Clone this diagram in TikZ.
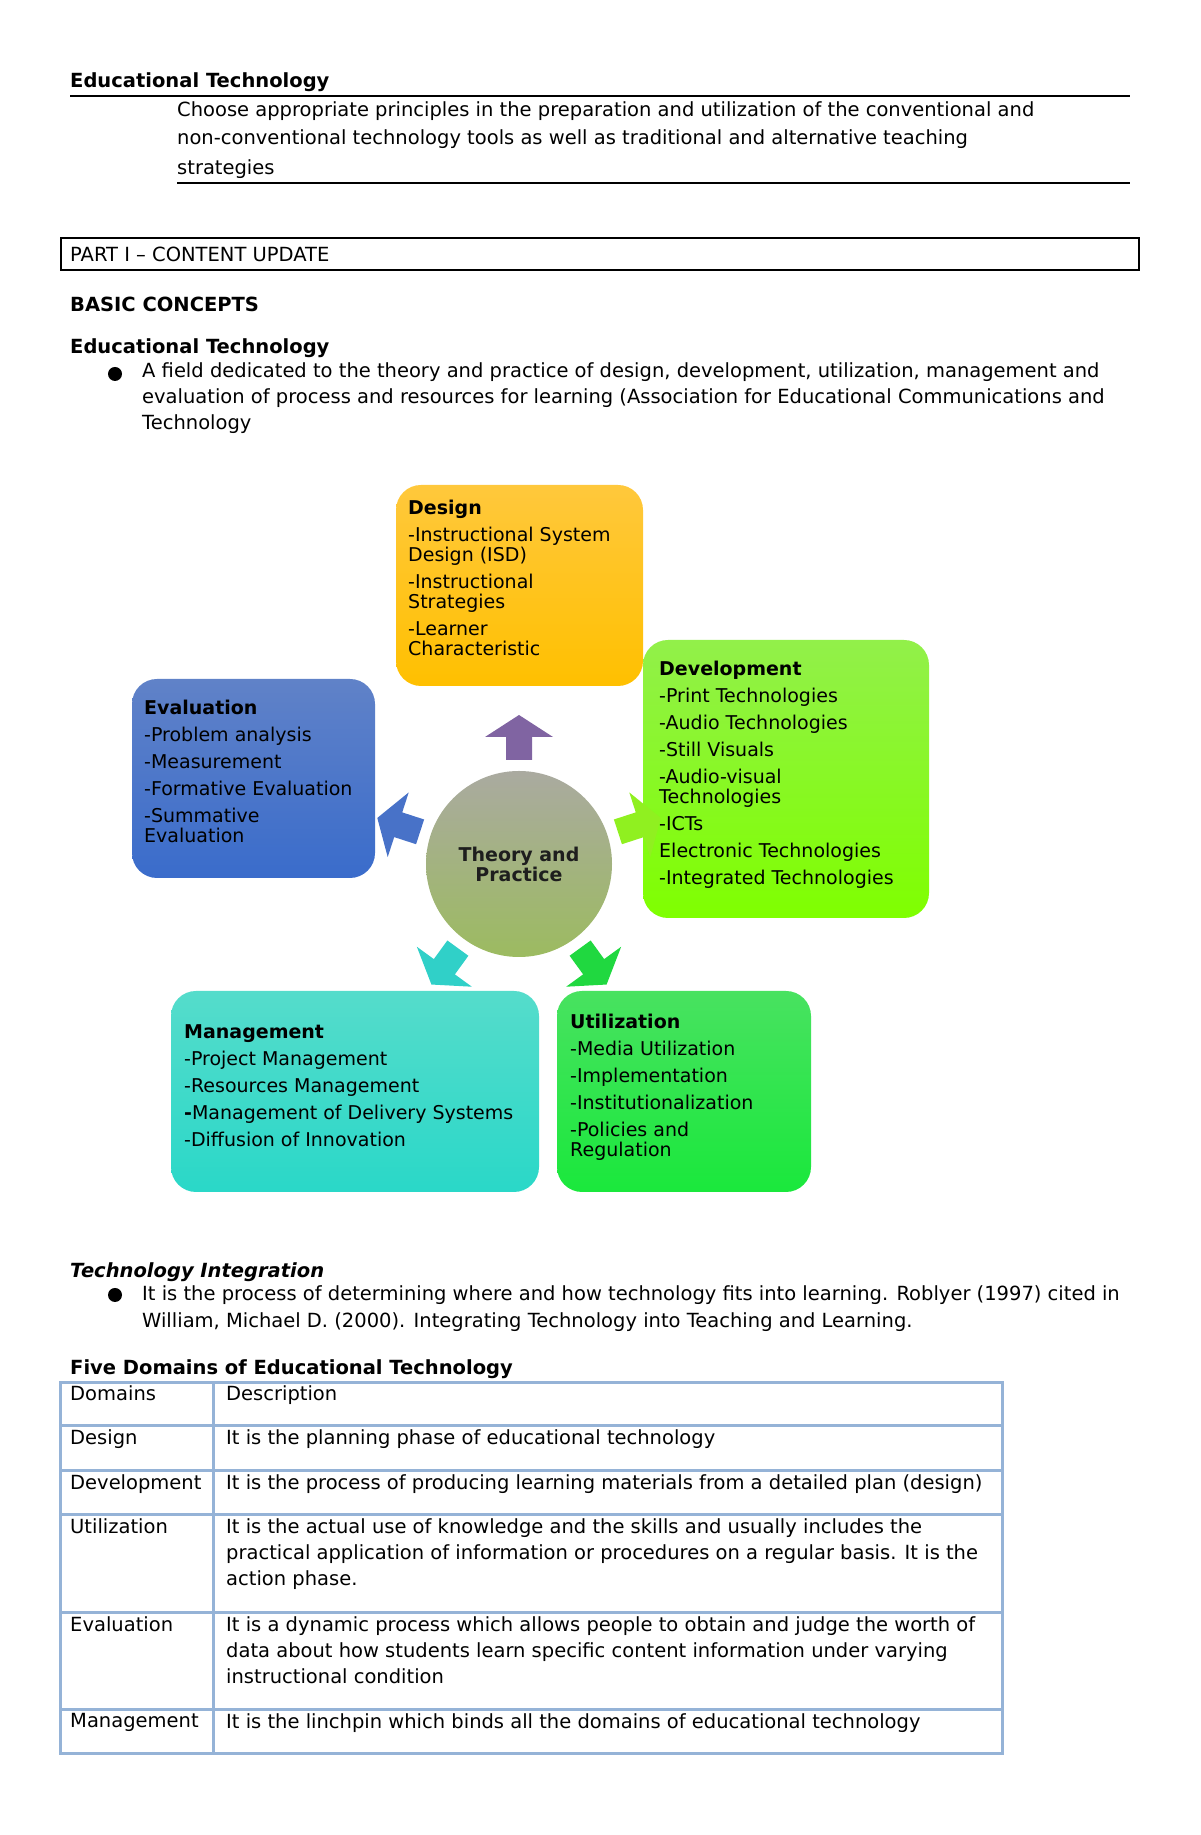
\documentclass[tikz,border=0pt]{standalone}
\usepackage{fontspec}
\setmainfont{DejaVu Sans}
\begin{document}
\begin{tikzpicture}[x=1pt,y=1pt,
  txt/.style={anchor=west,inner sep=0pt,font=\fontsize{19.5}{27}\selectfont},
  wide/.style={anchor=west,inner sep=0pt,font=\fontsize{19.5}{27}\selectfont,text width=953pt,align=justify},
  blk/.style={anchor=north west,inner sep=0pt,align=left,font=\fontsize{19}{20}\selectfont},
  cell/.style={anchor=north west,inner sep=0pt,align=left,font=\fontsize{19.5}{26}\selectfont},
  box/.style={rounded corners=25pt,draw=none},
  tb/.style={line width=3pt,color={rgb,255:red,149;green,179;blue,215}}]
\useasboundingbox (0,0) rectangle (1200,1835);
% header
\node[txt,font=\fontsize{19.5}{27}\selectfont\bfseries] (t1) at (70,1753) {Educational Technology};
\draw[line width=1.5pt] (70,1739) -- (1130,1739);
\node[wide] (l1) at (177,1724) {Choose appropriate principles in the preparation and utilization of the conventional and\hfill\hbox{}};
\node[txt] (l2) at (177,1696) {non-conventional technology tools as well as traditional and alternative teaching};
\node[txt] (l3) at (177,1666) {strategies};
\draw[line width=1.5pt] (177,1652) -- (1130,1652);
\draw[line width=1.5pt] (61,1597) rectangle (1139,1565);
\node[txt] (p1) at (70,1581) {PART I -- CONTENT UPDATE};
\node[txt,font=\fontsize{19.5}{27}\selectfont\bfseries] (bc) at (70,1531) {BASIC CONCEPTS};
\node[txt,font=\fontsize{19.5}{27}\selectfont\bfseries] (et) at (70,1487) {Educational Technology};
\fill (115,1461) circle (7);
\node[txt] (b1) at (142,1463) {A field dedicated to the theory and practice of design, development, utilization, management and};
\node[txt] (b2) at (142,1437) {evaluation of process and resources for learning (Association for Educational Communications and};
\node[txt] (b3) at (142,1411) {Technology};
% diagram
\shade[box,top color={rgb,255:red,255;green,200;blue,60},bottom color={rgb,255:red,255;green,192;blue,0}] (396,1149) rectangle (643,1350);
\shade[box,top color={rgb,255:red,146;green,240;blue,74},bottom color={rgb,255:red,127;green,255;blue,0}] (643,917) rectangle (929,1195);
\shade[box,top color={rgb,255:red,96;green,130;blue,200},bottom color={rgb,255:red,58;green,108;blue,203}] (132,957) rectangle (375,1156);
\shade[box,top color={rgb,255:red,85;green,220;blue,203},bottom color={rgb,255:red,42;green,216;blue,200}] (171,643) rectangle (539,844);
\shade[box,top color={rgb,255:red,72;green,226;blue,96},bottom color={rgb,255:red,26;green,232;blue,60}] (557,643) rectangle (811,844);
\shade[top color={rgb,255:red,170;green,170;blue,160},bottom color={rgb,255:red,156;green,187;blue,96}] (519,971) circle (93);
\node[align=center,font=\fontsize{19}{20}\selectfont\bfseries,text={rgb,255:red,30;green,30;blue,30}] (c) at (519,971) {Theory and\\Practice};
\node[blk] (d) at (408,1335) {\textbf{Design}\\[7pt]-Instructional System\\Design (ISD)\\[7pt]-Instructional\\Strategies\\[7pt]-Learner\\Characteristic};
\node[blk] (dv) at (659,1174) {\textbf{Development}\\[7pt]-Print Technologies\\[7pt]-Audio Technologies\\[7pt]-Still Visuals\\[7pt]-Audio-visual\\Technologies\\[7pt]-ICTs\\[7pt]Electronic Technologies\\[7pt]-Integrated Technologies};
\node[blk] (ev) at (144,1135) {\textbf{Evaluation}\\[7pt]-Problem analysis\\[7pt]-Measurement\\[7pt]-Formative Evaluation\\[7pt]-Summative\\Evaluation};
\node[blk] (mg) at (184,811) {\textbf{Management}\\[7pt]-Project Management\\[7pt]-Resources Management\\[7pt]\textbf{-}Management of Delivery Systems\\[7pt]-Diffusion of Innovation};
\node[blk] (ut) at (570,821) {\textbf{Utilization}\\[7pt]-Media Utilization\\[7pt]-Implementation\\[7pt]-Institutionalization\\[7pt]-Policies and\\Regulation};
\foreach \a/\r/\g/\b in {90/128/100/162, 162/72/114/200, 18/144/240/32, 234/48/208/200, 306/32/216/64}{
  \definecolor{ac}{RGB}{\r,\g,\b}
  \fill[ac,shift={(519,971)},rotate=\a] (104,-13) -- (127,-13) -- (127,-34) -- (149,0) -- (127,34) -- (127,13) -- (104,13) -- cycle;
}
% technology integration
\node[txt,font=\fontsize{19.5}{27}\selectfont\bfseries\itshape] (ti) at (70,563) {Technology Integration};
\fill (115,540) circle (7);
\node[txt] (ti1) at (142,540) {It is the process of determining where and how technology fits into learning. Roblyer (1997) cited in};
\node[txt] (ti2) at (142,513) {William, Michael D. (2000). Integrating Technology into Teaching and Learning.};
\node[txt,font=\fontsize{19.5}{27}\selectfont\bfseries] (fd) at (70,466) {Five Domains of Educational Technology};
% table
\begin{scope}[tb]
\draw (60,452) rectangle (1002,81);
\foreach \y in {409,364,320,222,125} \draw (60,\y) -- (1002,\y);
\draw (213,452) -- (213,81);
\end{scope}
\node[cell] (r0a) at (70,450) {Domains};
\node[cell] (r0b) at (226,450) {Description};
\node[cell] (r1a) at (70,406) {Design};
\node[cell] (r1b) at (226,406) {It is the planning phase of educational technology};
\node[cell] (r2a) at (70,361) {Development};
\node[cell] (r2b) at (226,361) {It is the process of producing learning materials from a detailed plan (design)};
\node[cell] (r3a) at (70,317) {Utilization};
\node[cell] (r3b) at (226,317) {It is the actual use of knowledge and the skills and usually includes the\\practical application of information or procedures on a regular basis. It is the\\action phase.};
\node[cell] (r4a) at (70,219) {Evaluation};
\node[cell] (r4b) at (226,219) {It is a dynamic process which allows people to obtain and judge the worth of\\data about how students learn specific content information under varying\\instructional condition};
\node[cell] (r5a) at (70,122) {Management};
\node[cell] (r5b) at (226,122) {It is the linchpin which binds all the domains of educational technology};
\end{tikzpicture}
\end{document}
